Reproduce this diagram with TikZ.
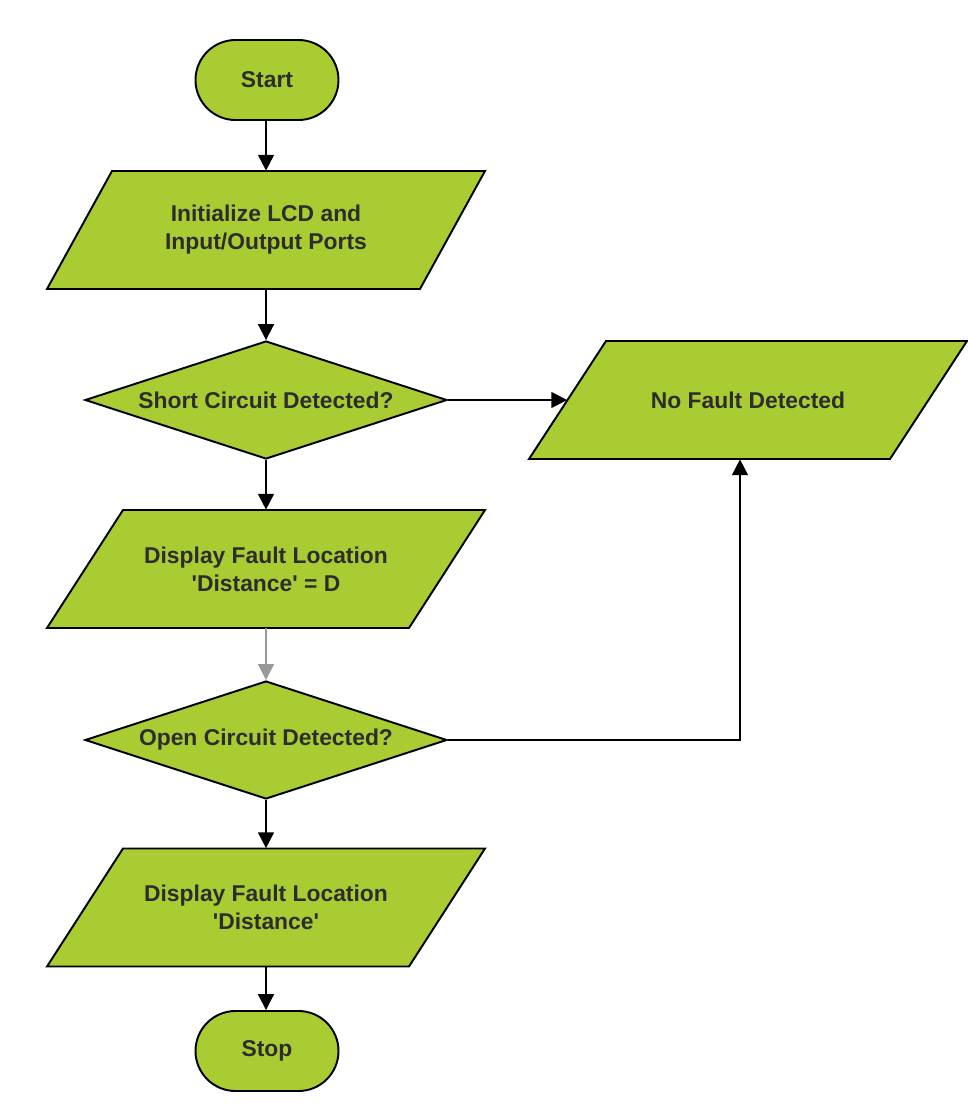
\documentclass[tikz,border=0pt]{standalone}
\usepackage{fontspec}
\setmainfont{Liberation Sans}
\usetikzlibrary{shapes.geometric,arrows.meta,calc}
\definecolor{flowgreen}{RGB}{170,204,51}
\definecolor{flowtext}{RGB}{45,45,45}
\tikzset{
  boxfont/.style={text=flowtext,font=\fontsize{13}{16}\selectfont\bfseries,align=center},
  box/.style={draw=black,fill=flowgreen,line width=1.1pt,inner sep=0pt,boxfont},
  term/.style={box,rectangle,rounded corners=0.8cm,minimum width=2.86cm,minimum height=1.6cm},
  iofill/.style={draw=black,fill=flowgreen,line width=1.1pt,line join=miter},
  iotext/.style={boxfont,inner sep=0pt,minimum height=2.36cm},
  dec/.style={box,diamond,minimum width=7.24cm,minimum height=2.36cm},
  flow/.style={line width=1.1pt,-{Triangle[length=9pt,width=9pt]}}
}
% parallelogram: name, centre, slant, text
\newcommand{\iobox}[4]{%
  \draw[iofill] ($(#2)+(-4.38+#3,1.18)$) -- ($(#2)+(4.38,1.18)$)
    -- ($(#2)+(4.38-#3,-1.18)$) -- ($(#2)+(-4.38,-1.18)$) -- cycle;
  \node[iotext,minimum width={8.76cm-#3cm}] (#1) at (#2) {#4};}
\begin{document}
\begin{tikzpicture}
    \useasboundingbox (0,0) rectangle (19.36,-22.1);

    \node[term] (start) at (5.34,-1.6) {Start};
    \iobox{init}{5.32,-4.6}{1.3}{Initialize LCD and\\Input/Output Ports}
    \node[dec,label=center:{\color{flowtext}\fontsize{13}{16}\selectfont\bfseries Short Circuit Detected?}] (short) at (5.32,-8) {};
    \iobox{nofault}{14.96,-8}{1.54}{No Fault Detected}
    \iobox{disp1}{5.32,-11.38}{1.52}{Display Fault Location\\ \textquotesingle Distance\textquotesingle{} = D}
    \node[dec,label=center:{\color{flowtext}\fontsize{13}{16}\selectfont\bfseries Open Circuit Detected?}] (open) at (5.32,-14.8) {};
    \iobox{disp2}{5.32,-18.15}{1.52}{Display Fault Location\\\textquotesingle Distance\textquotesingle}
    \node[term] (stop) at (5.34,-21.02) {Stop};
    \coordinate (bend) at (14.8,-14.8);

    \draw[flow] (start.south -| init) -- (init);
    \draw[flow] (init) -- (short);
    \draw[flow] (short.east) -- (nofault.west);
    \draw[flow] (short) -- (disp1);
    \draw[flow,draw=gray!80,line width=0.8pt] (disp1) -- (open);
    \draw[flow] (open) -- (disp2);
    \draw[flow] (disp2) -- (stop.north -| disp2);
    \draw[flow] (open.east) -- (bend) -- (bend |- nofault.south);
\end{tikzpicture}
\end{document}
